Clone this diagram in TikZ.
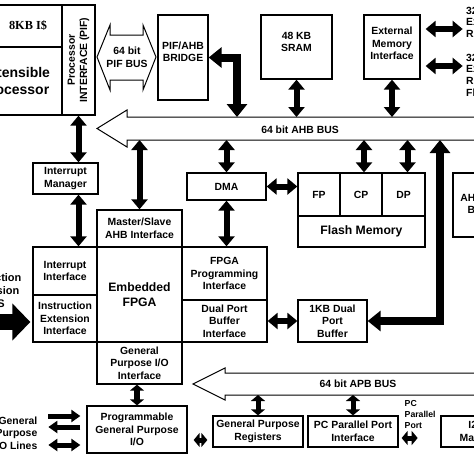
\documentclass[tikz,border=0pt]{standalone}
\usepackage{fontspec}
\setmainfont{Liberation Sans}
\newfontfamily\serifbf{Liberation Serif}
\usetikzlibrary{arrows.meta}
\tikzset{
  box/.style={draw, line width=1.3pt, fill=white, inner sep=0pt, align=center, font=\fontsize{10.4}{12.5}\selectfont\bfseries},
  txt/.style={inner sep=0pt, align=center, font=\fontsize{10.4}{12.5}\selectfont\bfseries},
  dbl/.style={line width=6pt, {Triangle[width=16pt,length=10pt]}-{Triangle[width=16pt,length=10pt]}},
  sdbl/.style={line width=5pt, {Triangle[width=14pt,length=6pt]}-{Triangle[width=14pt,length=6pt]}},
  ldbl/.style={line width=5pt, {Triangle[width=12pt,length=9pt]}-{Triangle[width=12pt,length=9pt]}},
  onearrow/.style={line width=5pt, -{Triangle[width=12pt,length=9pt]}},
  thk/.style={line width=8pt, line join=miter, {Triangle[width=20pt,length=13pt]}-{Triangle[width=20pt,length=13pt]}},
  ieb/.style={line width=16pt, -{Triangle[width=36pt,length=18pt]}},
  busline/.style={draw, line width=1pt, fill=white, line join=miter},
}
\begin{document}
\begin{tikzpicture}[x=1pt,y=-1pt]
\fill[white] (0,0) rectangle (474,474);
\useasboundingbox (0,0) rectangle (474,474);
\clip (0,0) rectangle (474,474);

% buses
\filldraw[busline] (97,57) -- (110,25) -- (110,35) -- (143,35) -- (143,25) -- (156,57) -- (143,90) -- (143,80) -- (110,80) -- (110,90) -- cycle;
\node[txt] (pifbus) at (127,57.5) {64 bit\\PIF BUS};
\filldraw[busline] (480,117) -- (127,117) -- (127,110) -- (97,128.5) -- (127,147) -- (127,140) -- (480,140);
\node[txt] (ahbbus) at (300,130) {64 bit AHB BUS};
\filldraw[busline] (480,373) -- (225,373) -- (225,368) -- (193,384) -- (225,400) -- (225,395) -- (480,395);
\node[txt] (apbbus) at (358,383.5) {64 bit APB BUS};
\coordinate (ahbT) at (0,117);
\coordinate (ahbB) at (0,140);
\coordinate (apbB) at (0,395);
\coordinate (brdrop) at (237,117);
\coordinate (bufup) at (440,140);
\coordinate (iestart) at (-10,322);

% boxes
\node[box, minimum width=68pt, minimum height=42pt, font=\serifbf\fontsize{12.3}{14}\selectfont\bfseries] (icache) at (28,26) {8KB I\$};
\node[box, minimum width=94pt, minimum height=68pt, font=\fontsize{14}{17}\selectfont\bfseries] (proc) at (15,81) {Extensible\\Processor};
\node[box, minimum width=33pt, minimum height=110pt] (pif) at (78.5,60) {};
\node[txt, rotate=90] (piftxt) at (pif.center) {Processor\\INTERFACE (PIF)};
\node[box, minimum width=50pt, minimum height=85pt] (bridge) at (183,57.5) {};
\node[txt] (bridgetxt) at (183,52) {PIF/AHB\\BRIDGE};
\node[box, minimum width=71pt, minimum height=64pt] (sram) at (296.5,47) {};
\node[txt] (sramtxt) at (296.5,42) {48 KB\\SRAM};
\node[box, minimum width=56pt, minimum height=64pt] (emi) at (392,47) {};
\node[txt] (emitxt) at (392,43.5) {External\\Memory\\Interface};
\node[box, minimum width=65pt, minimum height=31pt] (intmgr) at (65.5,178.5) {Interrupt\\Manager};
\node[box, minimum width=85pt, minimum height=37pt] (msahb) at (139.5,228.5) {Master/Slave\\AHB Interface};
\node[box, minimum width=64pt, minimum height=48pt] (intif) at (65,271) {Interrupt\\Interface};
\node[box, minimum width=64pt, minimum height=47pt] (iei) at (65,318.5) {Instruction\\Extension\\Interface};
\node[box, minimum width=85pt, minimum height=95pt, font=\fontsize{12.2}{14.5}\selectfont\bfseries] (efpga) at (139.5,294.5) {Embedded\\FPGA};
\node[box, minimum width=85pt, minimum height=42pt] (gpioif) at (139.5,363) {General\\Purpose I/O\\Interface};
\node[box, minimum width=100pt, minimum height=47pt] (pgpio) at (137,429.5) {Programmable\\General Purpose\\I/O};
\node[box, minimum width=79pt, minimum height=27pt] (dma) at (226.5,186.5) {DMA};
\node[box, minimum width=85pt, minimum height=53pt] (fprog) at (224.5,273.5) {FPGA\\Programming\\Interface};
\node[box, minimum width=85pt, minimum height=42pt] (dpbi) at (224.5,321) {Dual Port\\Buffer\\Interface};
\node[box, minimum width=69pt, minimum height=42pt] (buf) at (332.5,321) {1KB Dual\\Port\\Buffer};
\node[box, minimum width=42pt, minimum height=43pt] (fp) at (319,194.5) {FP};
\node[box, minimum width=42pt, minimum height=43pt] (cp) at (361,194.5) {CP};
\node[box, minimum width=43pt, minimum height=43pt] (dp) at (403.5,194.5) {DP};
\node[box, minimum width=127pt, minimum height=31pt, font=\fontsize{12.2}{14.5}\selectfont\bfseries] (flash) at (361.5,231.5) {Flash Memory};
\node[box, minimum width=62pt, minimum height=64pt] (apbbr) at (484,205) {AHB/APB\\Bridge};
\node[box, minimum width=90pt, minimum height=31pt] (gpr) at (258,431.5) {General Purpose\\Registers};
\node[box, minimum width=90pt, minimum height=31pt] (pcppi) at (353,431.5) {PC Parallel Port\\Interface};
\node[box, minimum width=71pt, minimum height=31pt] (i2c) at (476.5,431.5) {I2C\\Master};

% free texts
\node[txt, align=left, anchor=west, font=\fontsize{10.4}{11.6}\selectfont\bfseries] (ext1) at (466,22) {32 bit\\External\\RAM};
\node[txt, align=left, anchor=west, font=\fontsize{10.4}{11.8}\selectfont\bfseries] (ext2) at (466,75) {32 bit\\External\\ROM\\Flash};
\node[txt, font=\fontsize{11}{12.8}\selectfont\bfseries] (ietxt) at (-7,290.5) {Instruction\\Extension\\BUS};
\node[txt, align=right, anchor=east] (giolines) at (37.5,433) {General\\Purpose\\I/O Lines};
\node[txt, align=left, anchor=west, font=\fontsize{8.7}{10.5}\selectfont\bfseries] (pclbl) at (404.5,414.5) {PC\\Parallel\\Port};

% connectors
\draw[dbl] (sram.south) -- (sram.south |- ahbT);
\draw[dbl] (emi.south) -- (emi.south |- ahbT);
\draw[dbl] ([xshift=5pt,yshift=18pt]emi.east) -- ++(37,0);
\draw[dbl] ([xshift=5pt,yshift=-19pt]emi.east) -- ++(37,0);
\draw[thk] (bridge.east) -| (brdrop);
\draw[dbl] (pif.south) -- (pif.south |- intmgr.north);
\draw[dbl] (intmgr.south -| pif.south) -- (intif.north -| pif.south);
\draw[dbl] (msahb.north) -- (msahb.north |- ahbB);
\draw[dbl] (dma.north) -- (dma.north |- ahbB);
\draw[dbl] (dma.south) -- (dma.south |- fprog.north);
\draw[dbl] (dma.east) -- (dma.east -| fp.west);
\draw[dbl] ([xshift=3pt]cp.north) -- ([xshift=3pt]cp.north |- ahbB);
\draw[dbl] ([xshift=4pt]dp.north) -- ([xshift=4pt]dp.north |- ahbB);
\draw[thk] (buf.east) -| (bufup);
\draw[dbl] (dpbi.east) -- (buf.west);
\draw[ieb, shorten >=2pt] (iestart) -- (iestart -| iei.west);
\draw[sdbl, line width=6pt] (pgpio.north) -- (pgpio.north |- gpioif.south);
\draw[sdbl, shorten <=6pt, shorten >=5pt] ([yshift=-10.5pt]pgpio.east) -- ([yshift=-10.5pt]pgpio.east -| gpr.west);
\draw[sdbl] (gpr.north) -- (gpr.north |- apbB);
\draw[sdbl] (pcppi.north) -- (pcppi.north |- apbB);
\draw[sdbl] ([xshift=3pt,yshift=-6.5pt]pcppi.east) -- ++(16,0);
\draw[onearrow] ([xshift=-38pt,yshift=13.5pt]pgpio.west) -- ++(32,0);
\draw[onearrow] ([xshift=-6pt,yshift=2.5pt]pgpio.west) -- ++(-32,0);
\draw[ldbl] ([xshift=-6pt,yshift=-15.5pt]pgpio.west) -- ++(-32,0);
\end{tikzpicture}
\end{document}
